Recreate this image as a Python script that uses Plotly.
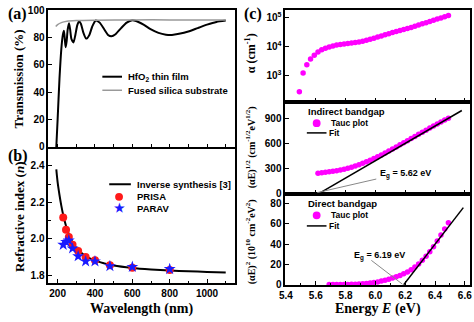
import plotly.graph_objects as go

W, H = 474, 322

# ---------------- (a) transmission spectra ----------------
film_wl = [193, 200, 210, 220, 228, 234, 239, 243, 248, 254, 261, 267, 274, 285, 295,
           305, 315, 325, 337, 353, 370, 385, 404, 425, 450, 470, 488, 510, 540, 570,
           595, 620, 660, 700, 740, 780, 812, 850, 900, 950, 1000, 1050, 1100]
film_T = [0, 20, 50, 72, 82, 85, 78, 73, 77, 86, 90.5, 86, 79, 76.5, 82,
          89, 92, 90, 84, 79.3, 82, 88, 92.6, 91, 86, 82, 81, 82.5, 87, 91,
          92.6, 92.2, 89.5, 86, 83.5, 82.2, 82, 82.8, 84.5, 87, 89.5, 91.5, 92.5]
sub_wl = [190, 200, 220, 250, 300, 400, 600, 800, 1100]
sub_T = [88.2, 89.5, 91, 92, 92.5, 92.8, 93, 93, 93]

# ---------------- (b) refractive index ----------------
inv_wl = [193, 200, 210, 220, 230, 245, 260, 280, 300, 330, 360, 400, 450, 500,
          600, 700, 800, 900, 1000, 1100]
inv_n = [2.38, 2.31, 2.24, 2.18, 2.13, 2.07, 2.025, 1.98, 1.95, 1.92, 1.9, 1.88,
         1.865, 1.853, 1.84, 1.832, 1.826, 1.822, 1.818, 1.815]
prisa_wl = [230, 245, 260, 280, 310, 350, 400, 480, 600, 800]
prisa_n = [2.117, 2.05, 2.009, 1.967, 1.933, 1.90, 1.882, 1.855, 1.841, 1.829]
parav_wl = [230, 245, 260, 280, 310, 350, 400, 480, 600, 800]
parav_n = [1.967, 1.983, 1.991, 1.947, 1.904, 1.876, 1.876, 1.850, 1.846, 1.834]

# ---------------- (c) absorption and Tauc plots ----------------
alpha_E = [5.49, 5.515, 5.54, 5.565, 5.59, 5.615, 5.64, 5.665, 5.69, 5.715, 5.74,
           5.765, 5.79, 5.815, 5.84, 5.865, 5.89, 5.915, 5.94, 5.965, 5.99, 6.015,
           6.04, 6.065, 6.09, 6.115, 6.14, 6.165, 6.19, 6.215, 6.24, 6.265, 6.29,
           6.315, 6.34, 6.365, 6.39, 6.415, 6.44, 6.465, 6.49]
alpha = [280, 1250, 2400, 3800, 5100, 6500, 7800, 8900, 9800, 10600, 11300,
         11900, 12400, 12900, 13300, 13900, 14600, 15500, 16600, 18000, 19600, 21400,
         23400, 25600, 28000, 30500, 33200, 36000, 39000, 42500, 46000, 50500, 56000,
         61000, 67000, 74000, 81000, 89000, 97000, 106000, 117000]

ind_E = [5.615, 5.64, 5.665, 5.69, 5.715, 5.74, 5.765, 5.79, 5.815, 5.84, 5.865,
         5.89, 5.915, 5.94, 5.965, 5.99, 6.015, 6.04, 6.065, 6.09, 6.115, 6.14,
         6.165, 6.19, 6.215, 6.24, 6.265, 6.29, 6.315, 6.34, 6.365, 6.39, 6.415,
         6.44, 6.465, 6.49]
ind_val = [243, 249, 255, 261, 267, 274, 282, 291, 302, 315, 330,
           346, 363, 381, 400, 419, 440, 462, 485, 509, 533, 558,
           583, 608, 633, 658, 683, 708, 733, 758, 783, 808, 832,
           856, 879, 900]
ind_fit_E = [5.62, 6.58]
ind_fit_val = [0, 993]

dir_E = [5.69, 5.715, 5.74, 5.765, 5.79, 5.815, 5.84, 5.865, 5.89, 5.915, 5.94,
         5.965, 5.99, 6.015, 6.04, 6.065, 6.09, 6.115, 6.14, 6.165, 6.19, 6.215,
         6.24, 6.265, 6.29, 6.315, 6.34, 6.365, 6.39, 6.415, 6.44, 6.465, 6.49]
dir_val = [0.1, 0.1, 0.15, 0.2, 0.25, 0.3, 0.4, 0.5, 0.7, 0.9, 1.2,
           1.6, 2.1, 2.8, 3.6, 4.5, 5.5, 6.6, 7.8, 9.2, 10.8, 12.6,
           14.8, 17.4, 20.5, 24, 28, 32.5, 37.5, 43, 49, 55, 61]
dir_fit_E = [6.19, 6.59]
dir_fit_val = [0, 76]

MAGENTA = "#ff00ff"
TICKFONT = dict(family="Liberation Sans, Arial", size=10, color="black", weight="bold")
SERIF = "Liberation Serif, Times New Roman"


def fx(px):
    return px / W


def fy(py):
    return 1 - py / H


fig = go.Figure()

fig.add_trace(go.Scatter(x=film_wl, y=film_T, mode="lines", xaxis="x", yaxis="y",
                         line=dict(color="black", width=2, shape="spline", smoothing=0.6)))
fig.add_trace(go.Scatter(x=sub_wl, y=sub_T, mode="lines", xaxis="x", yaxis="y",
                         line=dict(color="#999999", width=1.5, shape="spline", smoothing=0.8)))

fig.add_trace(go.Scatter(x=inv_wl, y=inv_n, mode="lines", xaxis="x2", yaxis="y2",
                         line=dict(color="black", width=2, shape="spline", smoothing=0.8)))
fig.add_trace(go.Scatter(x=prisa_wl, y=prisa_n, mode="markers", xaxis="x2", yaxis="y2",
                         marker=dict(symbol="circle", size=8, color="#ff1a1a")))
fig.add_trace(go.Scatter(x=parav_wl, y=parav_n, mode="markers", xaxis="x2", yaxis="y2",
                         marker=dict(symbol="star", size=9, color="#1a1aff")))

fig.add_trace(go.Scatter(x=alpha_E, y=alpha, mode="markers", xaxis="x3", yaxis="y3",
                         marker=dict(size=5.5, color=MAGENTA)))
fig.add_trace(go.Scatter(x=ind_E, y=ind_val, mode="markers", xaxis="x4", yaxis="y4",
                         marker=dict(size=5.5, color=MAGENTA)))
fig.add_trace(go.Scatter(x=ind_fit_E, y=ind_fit_val, mode="lines", xaxis="x4", yaxis="y4",
                         line=dict(color="black", width=1.5)))
fig.add_trace(go.Scatter(x=dir_E, y=dir_val, mode="markers", xaxis="x5", yaxis="y5",
                         marker=dict(size=5.5, color=MAGENTA)))
fig.add_trace(go.Scatter(x=dir_fit_E, y=dir_fit_val, mode="lines", xaxis="x5", yaxis="y5",
                         line=dict(color="black", width=1.5)))

axis_common = dict(showline=True, linecolor="black", linewidth=1.5, mirror=True,
                   ticks="inside", ticklen=4, tickwidth=1.2, tickcolor="black",
                   showgrid=False, zeroline=False, tickfont=TICKFONT,
                   ticklabeloverflow="allow")

wl_range = [150, 1150]
E_range = [5.395, 6.635]
ab_x = [fx(43), fx(233)]
c_x = [fx(284), fx(472)]
E_minor = dict(tickvals=[5.5, 5.7, 5.9, 6.1, 6.3, 6.5], ticks="inside", ticklen=2.5)
E_ticks = [5.4, 5.6, 5.8, 6.0, 6.2, 6.4, 6.6]

layout = dict(
    width=W, height=H, margin=dict(l=0, r=0, t=0, b=0),
    paper_bgcolor="white", plot_bgcolor="white", showlegend=False,
    xaxis=dict(axis_common, domain=ab_x, range=wl_range, anchor="y",
               tickvals=list(range(200, 1101, 100)), showticklabels=False),
    yaxis=dict(axis_common, domain=[fy(147), fy(5)], range=[-0.35, 100.35], anchor="x",
               tickvals=[0, 20, 40, 60, 80, 100], ticktext=["0", "20", "40", "60", "80", "100"]),
    xaxis2=dict(axis_common, domain=ab_x, range=wl_range, anchor="y2",
                tickvals=[200, 400, 600, 800, 1000],
                minor=dict(tickvals=[300, 500, 700, 900, 1100], ticks="inside", ticklen=2.5)),
    yaxis2=dict(axis_common, domain=[fy(287), fy(149)], range=[1.757, 2.49], anchor="x2",
                tickvals=[1.8, 2.0, 2.2, 2.4], ticktext=["1.8", "2.0", "2.2", "2.4"],
                minor=dict(tickvals=[1.9, 2.1, 2.3], ticks="inside", ticklen=2.5)),
    xaxis3=dict(axis_common, domain=c_x, range=E_range, anchor="y3",
                tickvals=E_ticks, showticklabels=False, minor=E_minor),
    yaxis3=dict(axis_common, domain=[fy(100), fy(5)], type="log", range=[2.1, 5.267],
                anchor="x3", tickvals=[1e3, 1e4, 1e5],
                ticktext=["10<sup>3</sup>", "10<sup>4</sup>", "10<sup>5</sup>"]),
    xaxis4=dict(axis_common, domain=c_x, range=E_range, anchor="y4",
                tickvals=E_ticks, showticklabels=False, minor=E_minor),
    yaxis4=dict(axis_common, domain=[fy(195), fy(100)], range=[-4, 1096], anchor="x4",
                tickvals=[0, 300, 600, 900], ticktext=["0", "300", "600", "900"]),
    xaxis5=dict(axis_common, domain=c_x, range=E_range, anchor="y5",
                tickvals=E_ticks, ticktext=["5.4", "5.6", "5.8", "6.0", "6.2", "6.4", "6.6"],
                minor=E_minor),
    yaxis5=dict(axis_common, domain=[fy(289), fy(195)], range=[-0.3, 89.5], anchor="x5",
                tickvals=[0, 20, 40, 60, 80], ticktext=["0", "20", "40", "60", "80"]),
)
fig.update_layout(**layout)

ann = []
shapes = []


def text(px, py, s, size=9.5, family="Liberation Sans, Arial", xanchor="left",
         angle=0, weight="bold", color="black"):
    ann.append(dict(x=fx(px), y=fy(py), xref="paper", yref="paper", text=s,
                    showarrow=False, xanchor=xanchor, yanchor="middle", textangle=angle,
                    font=dict(family=family, size=size, color=color, weight=weight)))


def key_line(x0, x1, py, color="black", width=2):
    shapes.append(dict(type="line", xref="paper", yref="paper", x0=fx(x0), x1=fx(x1),
                       y0=fy(py), y1=fy(py), line=dict(color=color, width=width)))


def key_dot(cx, cy, r, color):
    shapes.append(dict(type="circle", xref="paper", yref="paper",
                       x0=fx(cx - r), x1=fx(cx + r), y0=fy(cy + r), y1=fy(cy - r),
                       fillcolor=color, line=dict(width=0)))


# panel letters
text(0, 9, "(a)", size=16, family=SERIF)
text(0, 156, "(b)", size=16, family=SERIF)
text(240, 9, "(c)", size=16, family=SERIF)

# axis titles
text(13, 76, "Transmission (%)", size=13, family=SERIF, xanchor="center", angle=-90)
text(13, 218, "Refractive index (<i>n</i>)", size=13, family=SERIF, xanchor="center", angle=-90)
text(138, 313.5, "Wavelength (nm)", size=14, family=SERIF, xanchor="center")
text(378, 313.5, "Energy <i>E</i> (eV)", size=14, family=SERIF, xanchor="center")
text(249, 50, "α (cm<sup>-1</sup>)", size=12, family=SERIF, xanchor="center", angle=-90)
text(249, 147, "(αE)<sup>1/2</sup> (cm<sup>-1/2</sup>eV<sup>1/2</sup>)", size=10,
     family=SERIF, xanchor="center", angle=-90)
text(249, 244, "(αE)<sup>2</sup> (10<sup>10</sup> cm<sup>-2</sup>eV<sup>2</sup>)", size=10,
     family=SERIF, xanchor="center", angle=-90)

# legend (a)
key_line(98, 118, 74, "black", 2)
text(122, 74, "HfO<sub>2</sub> thin film")
key_line(98, 118, 88, "#999999", 1.5)
text(122, 88, "Fused silica substrate")

# legend (b)
key_line(105, 127, 185, "black", 2)
text(131, 185, "Inverse synthesis [3]")
key_dot(115, 198, 4, "#ff1a1a")
text(131, 198, "PRISA")
text(115, 210, "★", size=12, xanchor="center", color="#1a1aff")
text(131, 210, "PARAV")

# legends (c)
text(305, 110, "Indirect bandgap")
key_dot(316, 122, 4, MAGENTA)
text(329, 122, "Tauc plot", size=8.5)
key_line(306, 326, 132, "black", 1.5)
text(327, 132.5, "Fit", size=8.5)

text(305, 205, "Direct bandgap")
key_dot(316, 217, 4, MAGENTA)
text(329, 217, "Tauc plot", size=8.5)
key_line(306, 326, 228, "black", 1.5)
text(327, 228.5, "Fit", size=8.5)

# band-gap labels with leader lines
ann.append(dict(x=6.015, y=232, xref="x4", yref="y4", text="E<sub>g</sub> = 5.62 eV",
                showarrow=False, xanchor="left", yanchor="middle",
                font=dict(family="Liberation Sans, Arial", size=9, color="black", weight="bold")))
shapes.append(dict(type="line", xref="x4", yref="y4", x0=5.61, y0=12, x1=6.006, y1=174,
                   line=dict(color="#888888", width=1)))
ann.append(dict(x=5.841, y=28, xref="x5", yref="y5", text="E<sub>g</sub> = 6.19 eV",
                showarrow=False, xanchor="left", yanchor="middle",
                font=dict(family="Liberation Sans, Arial", size=9, color="black", weight="bold")))
shapes.append(dict(type="line", xref="x5", yref="y5", x0=5.973, y0=24, x1=6.181, y1=0.6,
                   line=dict(color="#888888", width=1)))

fig.update_layout(annotations=ann, shapes=shapes)
fig.write_html("out.html")
